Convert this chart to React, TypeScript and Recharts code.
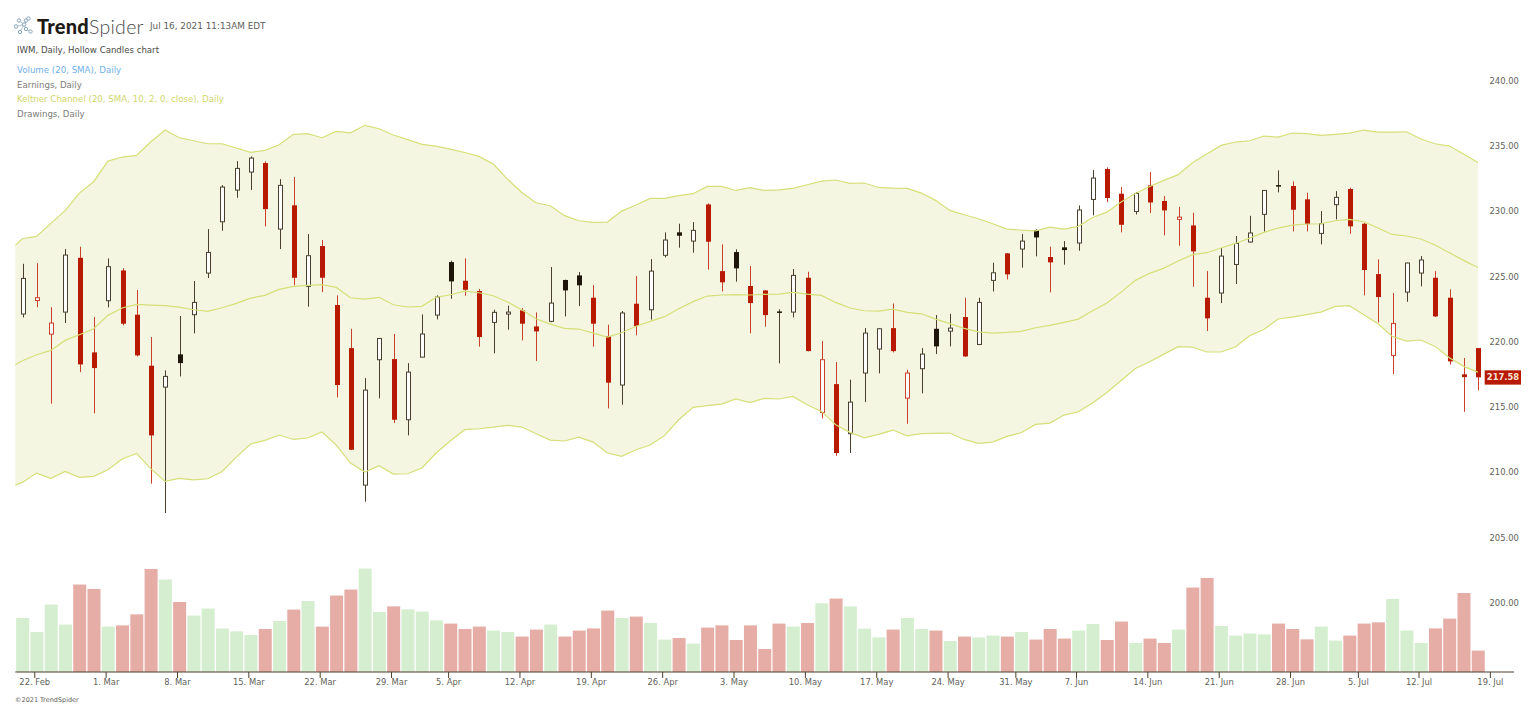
import React from 'react';
import { ComposedChart, XAxis, YAxis, Bar, Line, Area } from 'recharts';

const highs = [226.28,226.33,222.96,227.41,227.59,222.2,226.69,225.95,224.27,220.67,218.11,222.28,224.96,228.94,232.31,234.15,234.51,234.13,232.77,232.93,228.56,228.1,223.86,221.3,217.52,220.59,220.9,218.67,222.4,223.86,226.52,226.7,224.35,222.76,223.07,222.89,222.56,226.03,225.06,225.65,224.65,221.61,222.66,225.34,226.64,228.69,229.35,229.48,230.91,227.77,227.39,226.11,224.27,222.79,225.88,225.67,220.36,218.75,217.4,221.35,221.33,223.24,218.16,219.82,222.35,222.45,223.68,223.68,226.36,227.1,228.56,228.92,227.59,228.02,230.75,233.46,233.67,232.16,231.78,233.31,231.47,230.65,230.19,225.72,227.49,228.41,229.96,231.9,233.44,232.59,231.73,230.32,231.85,232.11,229.4,226.62,224.04,226.36,226.87,225.72,224.32,219.06,219.82];
const lows = [222.17,222.96,215.56,221.74,217.98,214.82,222.94,221.56,219.18,209.43,207.18,217.65,220.95,225.19,228.81,231.34,231.93,229.15,227.41,224.63,222.99,224.11,216.04,212.0,208.05,215.97,214.08,213.13,219.11,222.02,223.6,223.83,219.93,219.42,221.23,220.41,218.83,221.8,222.25,223.04,219.93,215.2,215.48,220.8,222.0,226.77,227.51,227.13,225.83,224.17,224.91,220.95,221.46,218.65,222.17,219.57,214.43,211.57,211.78,215.68,217.88,219.49,214.02,216.35,219.36,219.95,219.15,220.05,224.16,225.08,225.98,226.85,224.09,226.21,227.28,229.99,231.01,228.69,230.06,230.17,228.46,227.66,224.52,221.13,223.27,224.73,227.9,228.74,231.75,228.76,228.76,227.77,229.68,228.58,223.86,221.79,217.83,223.37,224.55,222.2,218.55,214.94,216.58];
const opens = [222.43,223.47,220.89,222.58,226.74,219.49,223.45,225.77,222.38,218.47,216.83,219.34,222.38,225.57,229.5,231.93,233.31,234,228.94,230.76,224.55,227.64,223.12,219.82,209.32,218.93,218.98,214.33,219.13,222.35,226.41,224.98,224.19,221.79,222.43,222.71,221.48,221.87,225.04,225.39,223.68,220.74,216.99,223.22,222.76,226.93,228.69,228.02,230.83,225.72,227.18,224.58,224.24,222.63,222.58,225.21,214.89,217.06,213.26,217.91,219.75,221.35,215.99,218.24,221.3,221.12,222.2,220.1,225.01,227.08,227.41,228.86,226.8,227.54,227.87,231.21,233.54,231.65,230.29,232.29,231.09,229.68,229.22,223.68,224.04,226.23,227.95,230.07,232.31,232.24,231.22,228.61,230.81,232.01,229.35,225.49,219.26,224.11,225.57,225.21,223.68,217.81,219.82];
const closes = [225.16,223.68,221.74,226.95,218.57,218.29,226.06,221.69,219.26,213.13,217.65,218.67,223.32,227.15,232.16,233.59,234.38,230.47,232.29,225.21,226.9,225.21,216.99,212.03,216.6,220.56,214.33,217.98,220.9,223.73,224.93,224.29,220.67,222.56,222.58,221.69,221.1,223.27,224.24,224.63,221.69,217.17,222.51,221.51,225.72,228.1,228.43,228.84,227.97,224.86,225.93,223.27,222.35,222.53,225.39,219.59,218.93,211.78,215.68,220.97,221.3,219.59,217.91,219.36,219.95,221.35,219.18,223.32,225.59,225.47,228.02,228.3,226.39,227.33,230.4,232.85,231.32,229.27,231.67,230.98,230.37,229.86,227.23,222.1,226.87,227.84,228.64,231.9,232.26,230.42,229.32,229.35,231.37,229.15,225.8,223.73,221.71,226.34,226.57,222.25,218.8,217.6,217.58];
const volumes = [27,20,33.7,23.7,43.7,41.5,22.7,23.3,28.8,51.5,46.2,35,28.2,31.7,21.7,20.3,18.5,21.5,25.5,31.2,35.5,22.7,38.2,41.2,51.7,30,32.8,31.3,30.2,25.8,24.2,21.5,22.7,20.7,20,17.7,21.2,23.7,17.7,20.7,21.8,30.7,27,27.7,24.5,16.2,17,14.2,22.2,23.3,16,23.3,11.5,24.2,22.7,24.5,34.3,36.7,32.8,21.7,17.3,21.2,27,21.5,20.7,15.5,17.7,17.3,18.2,17.7,20,16.2,21.5,16.7,20.7,24,16,25.2,14.5,16.7,14.5,21.2,42.2,47,23,18.2,19.2,18.8,24.2,21.5,16.3,22.7,15.7,18.2,24.2,24.8,36.5,20.7,14.5,21.8,26.7,39.5,10.7];
// The first value of each band belongs to the session just before the visible window.
const upperBand = [227.18,228.2,228.38,229.38,230.35,231.7,232.57,234.15,234.46,234.59,235.61,236.53,235.94,235.71,235.48,235.48,235.15,234.82,234.97,235.4,236.2,236.25,235.94,236.43,236.32,236.89,236.63,236.15,235.79,235.43,235.3,235.07,234.81,234.51,233.92,232.77,231.75,230.96,230.73,229.97,229.58,229.45,229.48,230.32,230.78,231.29,231.29,231.5,231.65,232.21,232.21,231.9,232.11,231.9,231.95,232.06,232.34,232.62,232.7,232.44,232.47,232.13,232.08,232.06,231.7,231.14,230.37,230.04,229.73,229.35,228.94,228.86,228.81,229.09,228.94,229.15,229.83,230.24,231.01,231.67,232.2,232.67,233.11,234.02,234.69,235.35,235.61,235.71,236.07,235.99,236.3,236.25,236.12,236.2,236.3,236.53,236.37,236.37,236.4,235.84,235.48,235.3,234.69,234.05];
const middleBand = [218.24,218.85,219.31,219.64,220.41,220.84,221.3,222.33,222.89,223.17,223.12,223.07,222.96,222.76,222.63,222.91,223.25,223.65,223.86,224.32,224.55,224.63,224.68,224.47,223.68,223.58,223.71,223.14,222.97,223.02,223.71,223.91,224.19,224.06,223.83,223.35,222.76,222.07,221.66,221.33,221.28,220.97,220.67,221,221.49,221.87,222.23,222.84,223.38,223.81,223.89,223.91,223.89,223.94,223.96,224.09,223.96,223.86,223.32,222.89,222.68,222.66,222.81,222.56,222.45,222.04,221.69,221.33,221.07,220.97,221.02,221.1,221.38,221.56,221.79,222.04,222.68,223.27,224.11,225.01,225.55,225.95,226.49,226.98,227.13,227.49,227.84,228.25,228.69,229.02,229.25,229.33,229.35,229.58,229.68,229.5,229.02,228.53,228.41,228.18,227.72,227.13,226.54,226];
const lowerBand = [209.12,209.53,210.24,209.84,210.37,209.91,209.99,210.5,211.32,211.75,210.58,209.61,209.84,209.73,209.81,210.37,211.47,212.47,212.75,213.16,212.82,212.93,213.39,212.39,211.01,210.32,210.81,210.17,210.19,210.63,211.78,212.72,213.57,213.64,213.77,213.9,213.77,213.26,212.77,212.7,213,212.62,211.78,211.52,212.03,212.39,213.11,214.33,215.28,215.41,215.53,215.92,215.64,215.97,215.92,216.12,215.48,214.97,213.95,213.36,212.95,213.21,213.54,213.1,213.26,213.28,213.31,212.82,212.52,212.62,213.05,213.33,213.97,214.07,214.69,214.94,215.61,216.42,217.34,218.26,218.78,219.36,219.93,219.9,219.52,219.52,219.9,220.77,221.25,222.05,222.2,222.38,222.58,223.02,223.07,222.38,221.69,220.72,220.36,220.44,219.95,219.08,218.42,217.98];

const priceTicks = [200, 205, 210, 215, 217.58, 220, 225, 230, 235, 240];
const lastPrice = 217.58;
const dateTicks = [1, 6, 11, 16, 21, 26, 30, 35, 40, 45, 50, 55, 60, 65, 69.75, 74, 79, 84, 89, 93.75, 98, 103];
const dateLabels = ['22. Feb', '1. Mar', '8. Mar', '15. Mar', '22. Mar', '29. Mar', '5. Apr', '12. Apr', '19. Apr', '26. Apr', '3. May', '10. May', '17. May', '24. May', '31. May', '7. Jun', '14. Jun', '21. Jun', '28. Jun', '5. Jul', '12. Jul', '19. Jul'];
const legendLines = [
  { text: 'Volume (20, SMA), Daily', color: '#6fb0ea', top: 63.5 },
  { text: 'Earnings, Daily', color: '#7c7c78', top: 78.5 },
  { text: 'Keltner Channel (20, SMA, 10, 2, 0, close), Daily', color: '#cfd76c', top: 93 },
  { text: 'Drawings, Daily', color: '#7c7c78', top: 107.5 },
];

const RED = '#b81a00';
const INK = '#4a3f2e';
const BAND = '#d6df78';
const FONT = '"DejaVu Sans", Verdana, sans-serif';

const rows = upperBand.map((upper, k) => {
  const i = k - 1;
  const base: any = { idx: i, upper, middle: middleBand[k], lower: lowerBand[k], band: [lowerBand[k], upper] };
  if (i >= 0) {
    base.open = opens[i];
    base.close = closes[i];
    base.high = highs[i];
    base.low = lows[i];
    base.range = [lows[i], highs[i]];
    base.volume = volumes[i];
    base.prevClose = i > 0 ? closes[i - 1] : null;
  }
  return base;
});

function Candle(props: any) {
  const { x, y, width, height, payload } = props;
  if (!payload || payload.high === undefined) return null;
  const { open, close, high, low, prevClose } = payload;
  const perUnit = height / (high - low);
  const cx = Math.round(x + width / 2) + 0.5;
  const topPrice = Math.max(open, close);
  const bottomPrice = Math.min(open, close);
  const bodyTop = y + (high - topPrice) * perUnit;
  const bodyH = Math.max((topPrice - bottomPrice) * perUnit, 1.5);
  const hollow = close > open;
  const down = prevClose !== null && close < prevClose;
  const solidColor = down ? RED : '#1d1509';
  const lineColor = down ? '#c9402b' : INK;
  return (
    <g>
      <line x1={cx} x2={cx} y1={y} y2={y + height} stroke={lineColor} strokeWidth={1} />
      {hollow ? (
        <rect x={cx - 2} y={bodyTop} width={4} height={bodyH} fill="#ffffff" stroke={lineColor} strokeWidth={1} />
      ) : (
        <rect x={cx - 2.5} y={bodyTop} width={5} height={bodyH} fill={solidColor} />
      )}
    </g>
  );
}

function VolumeBar(props: any) {
  const { x, y, width, height, payload } = props;
  if (!payload || payload.volume === undefined) return null;
  const up = payload.close >= payload.open;
  return <rect x={x} y={y} width={width} height={height} fill={up ? '#d5eecf' : '#e5ada5'} />;
}

function DateTick(props: any) {
  const { x, payload } = props;
  const at = dateTicks.indexOf(payload.value);
  const px = x - 1.8;
  return (
    <g>
      <line x1={px} x2={px} y1={672} y2={678} stroke={INK} strokeWidth={1} />
      <text x={px} y={685} textAnchor="middle" fontFamily={FONT} fontSize={8.4} fill="#5f5f5a">
        {dateLabels[at]}
      </text>
    </g>
  );
}

function PriceTick(props: any) {
  const { y, payload } = props;
  if (payload.value === lastPrice) {
    return (
      <g>
        <rect x={1484.7} y={y - 7} width={36.3} height={14.3} fill={RED} />
        <text x={1503} y={y + 3} textAnchor="middle" fontFamily={FONT} fontSize={8.4} fontWeight={700} fill="#f7e4d8">
          {lastPrice.toFixed(2)}
        </text>
      </g>
    );
  }
  return (
    <text x={1489.5} y={y - 1} textAnchor="start" fontFamily={FONT} fontSize={8.4} fill="#5f5f5a">
      {Number(payload.value).toFixed(2)}
    </text>
  );
}

const logoDots = [
  [16, 26.5], [19, 20.5], [26, 20.5], [24, 24.5], [28.5, 18.5], [20, 32], [30.5, 31.5], [26, 29],
];

export default function App() {
  return (
    <div style={{ position: 'absolute', left: 0, top: 0, width: 1536, height: 707, background: '#fff', overflow: 'hidden', fontFamily: FONT }}>
      <ComposedChart
        width={1536}
        height={707}
        data={rows}
        margin={{ top: 71.7, right: 0, bottom: 0, left: 15.3 }}
        style={{ position: 'absolute', left: 0, top: 0 }}
      >
        <XAxis
          xAxisId="main"
          dataKey="idx"
          type="number"
          domain={[-0.49, 104.53]}
          allowDataOverflow
          ticks={dateTicks}
          interval={0}
          height={35}
          tick={DateTick}
          tickLine={false}
          axisLine={{ stroke: INK, strokeWidth: 1 }}
        />
        <XAxis xAxisId="vol" dataKey="idx" type="number" domain={[-0.49, 104.53]} allowDataOverflow hide />
        <YAxis
          yAxisId="price"
          orientation="right"
          domain={[195, 241]}
          allowDataOverflow
          ticks={priceTicks}
          interval={0}
          width={22}
          tick={PriceTick}
          tickLine={false}
          axisLine={false}
        />
        <YAxis yAxisId="volume" domain={[0, 300]} allowDataOverflow hide />

        <Bar xAxisId="vol" yAxisId="volume" dataKey="volume" barSize={13} shape={VolumeBar} isAnimationActive={false} />
        <Area xAxisId="main" yAxisId="price" dataKey="band" type="linear" stroke="none" fill="#f4f6e1" fillOpacity={1} dot={false} activeDot={false} isAnimationActive={false} />
        <Line xAxisId="main" yAxisId="price" dataKey="upper" type="linear" stroke={BAND} strokeWidth={1.2} dot={false} activeDot={false} isAnimationActive={false} />
        <Line xAxisId="main" yAxisId="price" dataKey="lower" type="linear" stroke={BAND} strokeWidth={1.2} dot={false} activeDot={false} isAnimationActive={false} />
        <Bar xAxisId="main" yAxisId="price" dataKey="range" barSize={5} shape={Candle} isAnimationActive={false} />
        <Line xAxisId="main" yAxisId="price" dataKey="middle" type="linear" stroke={BAND} strokeWidth={1.2} dot={false} activeDot={false} isAnimationActive={false} />
      </ComposedChart>

      <svg width={40} height={40} style={{ position: 'absolute', left: 0, top: 0 }}>
        <path d="M16 26.5L24 24.5L28.5 18.5M19 20.5L24 24.5L26 20.5M24 24.5L20 32M24 24.5L26 29L30.5 31.5" stroke="#9fb6c2" strokeWidth={0.8} fill="none" />
        {logoDots.map(([cx, cy], k) => (
          <circle key={k} cx={cx} cy={cy} r={1.7} fill="#fff" stroke="#86a5b8" strokeWidth={1} />
        ))}
      </svg>
      <div style={{ position: 'absolute', left: 37, top: 14, fontFamily: 'Lato, sans-serif', lineHeight: '24px', whiteSpace: 'nowrap' }}>
        <span style={{ fontWeight: 900, fontSize: 20, letterSpacing: 0.2, color: '#1d1a16' }}>Trend</span>
        <span style={{ fontWeight: 300, fontSize: 19.5, letterSpacing: 0.3, color: '#4a4a4a' }}>Spider</span>
      </div>
      <div style={{ position: 'absolute', left: 150, top: 20, fontSize: 8.85, lineHeight: '12px', color: '#5d5d5a', whiteSpace: 'nowrap' }}>Jul 16, 2021 11:13AM EDT</div>
      <div style={{ position: 'absolute', left: 17, top: 44, fontSize: 8.6, lineHeight: '12px', color: '#4a4a46', whiteSpace: 'nowrap' }}>IWM, Daily, Hollow Candles chart</div>
      {legendLines.map((l) => (
        <div key={l.text} style={{ position: 'absolute', left: 17, top: l.top, fontSize: 8.65, lineHeight: '12px', color: l.color, whiteSpace: 'nowrap' }}>{l.text}</div>
      ))}
      <div style={{ position: 'absolute', left: 15, top: 695, fontSize: 6.5, lineHeight: '10px', color: '#5d5d5a', whiteSpace: 'nowrap' }}>©2021 TrendSpider</div>
    </div>
  );
}
